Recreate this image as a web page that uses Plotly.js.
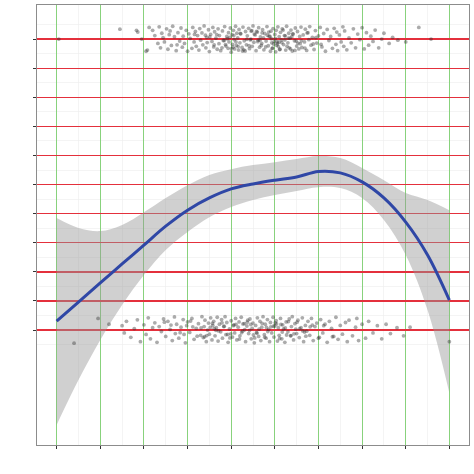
<!DOCTYPE html>
<html>
<head>
<meta charset="utf-8">
<script src="https://cdn.plot.ly/plotly-3.0.1.min.js"></script>
<style>html,body{margin:0;padding:0;background:#fff;}#chart{width:474px;height:474px;}</style>
</head>
<body>
<div id="chart"></div>
<script>
// jittered observations at outcome = 1
var topX = [1.05,2.45,2.83,2.86,2.95,3.05,3.08,3.12,3.2,3.25,
3.32,3.35,3.38,3.41,3.44,3.47,3.52,3.55,3.58,3.6,
3.63,3.66,3.7,3.74,3.78,3.82,3.85,3.88,3.9,3.93,
3.97,4.0,4.03,4.06,4.1,4.12,4.15,4.18,4.2,4.23,
4.26,4.28,4.3,4.33,4.35,4.38,4.42,4.44,4.45,4.48,
4.5,4.53,4.56,4.58,4.6,4.62,4.65,4.68,4.7,4.72,
4.73,4.76,4.8,4.82,4.85,4.88,4.9,4.93,4.94,4.95,
4.98,5.0,5.02,5.03,5.05,5.07,5.08,5.1,5.12,5.13,
5.15,5.17,5.18,5.2,5.22,5.25,5.27,5.3,5.32,5.33,
5.35,5.37,5.4,5.42,5.45,5.47,5.48,5.5,5.52,5.55,
5.57,5.6,5.62,5.63,5.65,5.67,5.7,5.72,5.75,5.77,
5.8,5.82,5.85,5.87,5.9,5.91,5.92,5.95,5.96,5.97,
6.0,6.02,6.03,6.05,6.07,6.08,6.1,6.12,6.13,6.15,
6.17,6.2,6.22,6.25,6.27,6.3,6.32,6.33,6.35,6.37,
6.4,6.42,6.45,6.47,6.5,6.52,6.55,6.57,6.58,6.6,
6.62,6.65,6.68,6.7,6.73,6.76,6.78,6.8,6.83,6.86,
6.9,6.93,6.96,7.0,7.04,7.08,7.12,7.16,7.2,7.24,
7.28,7.32,7.36,7.4,7.42,7.44,7.48,7.52,7.56,7.58,
7.6,7.65,7.7,7.75,7.8,7.85,7.9,7.95,8.0,8.05,
8.1,8.15,8.2,8.25,8.3,8.38,8.45,8.5,8.62,8.7,
8.82,9.0,9.3,9.58,
4.51,4.87,5.04,5.21,5.29,5.44,5.58,5.69,5.83,5.94,
6.01,6.09,6.19,6.28,6.39,6.46,6.61,6.74,6.88,5.11,
4.67,4.79,5.36,5.74,6.04,6.24,6.53,5.01,5.53,5.99,
4.97,5.16,5.66,5.86,6.16,6.36,4.41,4.61,4.91,5.26,
5.46,5.61,5.79,5.89,6.06,6.23,6.41,6.69,6.94,7.06,
4.84,5.06,5.41,5.71,5.93,6.11,6.31,6.49,3.76,4.16];
var topY = [1.0,1.034,1.03,1.024,1.0,0.958,0.962,1.04,1.03,1.012,
0.985,1.042,0.97,1.02,1.005,0.99,1.035,0.965,1.015,1.028,
0.978,1.044,1.008,0.96,1.022,0.993,1.038,0.972,1.01,0.985,
1.03,0.958,1.018,1.002,0.968,1.04,0.99,1.026,0.975,1.012,
0.962,1.036,0.996,1.021,0.98,1.045,0.97,1.006,0.988,1.032,
0.957,1.016,0.992,1.04,0.973,1.025,1.003,0.965,1.035,0.984,
1.012,0.96,1.028,0.995,1.043,0.976,1.009,0.968,1.022,0.99,
1.038,0.955,1.015,0.982,1.03,0.998,0.966,1.044,0.978,1.02,
1.004,0.962,1.033,0.987,1.018,0.971,1.041,0.994,0.959,1.026,
0.98,1.011,1.037,0.967,1.0,1.029,0.975,1.045,0.989,1.014,
0.96,1.024,0.996,1.039,0.972,1.007,0.985,1.032,0.963,1.019,
0.993,1.043,0.977,1.01,0.958,1.027,1.001,0.969,1.036,0.983,
1.016,0.956,1.03,0.991,1.042,0.974,1.008,0.965,1.023,0.997,
1.035,0.981,1.012,0.962,1.044,0.987,1.02,0.97,1.003,1.031,
0.959,1.017,0.994,1.038,0.976,1.026,0.966,1.009,0.984,1.041,
0.971,1.014,0.99,1.034,0.961,1.022,0.998,1.043,0.979,1.006,
0.964,1.029,0.986,1.011,1.04,0.973,1.019,0.958,1.033,0.995,
1.009,0.968,1.037,0.982,1.024,0.96,1.014,0.99,1.042,0.975,
1.028,0.963,1.004,0.987,1.035,0.97,1.017,0.998,1.039,0.966,
1.022,0.979,1.01,0.992,1.031,0.97,1.0,1.02,0.985,1.006,
0.996,0.99,1.04,1.0,
1.007,0.981,0.972,1.019,0.963,0.997,1.026,0.978,1.013,0.968,
1.002,0.989,1.031,0.975,1.008,0.961,0.994,1.021,0.983,0.99,
1.015,0.97,0.999,1.004,0.979,1.011,0.986,0.967,1.017,0.992,
1.006,0.974,0.996,1.024,0.988,0.966,1.013,0.98,1.001,0.959,
1.027,0.991,0.973,1.009,0.984,0.997,1.018,0.969,1.005,0.982,
0.995,1.012,0.977,1.021,0.987,0.964,1.003,0.993,0.98,1.016];

// jittered observations at outcome = 0
var botX = [1.4,1.95,2.2,2.5,2.55,2.6,2.7,2.78,2.85,2.92,
3.0,3.05,3.1,3.15,3.2,3.25,3.3,3.35,3.4,3.45,
3.5,3.55,3.6,3.65,3.7,3.72,3.75,3.8,3.85,3.9,
3.95,3.98,4.0,4.05,4.1,4.15,4.2,4.25,4.3,4.33,
4.36,4.38,4.4,4.43,4.46,4.48,4.5,4.53,4.56,4.58,
4.6,4.63,4.66,4.68,4.7,4.73,4.76,4.78,4.8,4.83,
4.86,4.88,4.9,4.93,4.96,5.0,5.03,5.06,5.08,5.1,
5.13,5.16,5.18,5.2,5.23,5.26,5.3,5.33,5.36,5.38,
5.4,5.43,5.46,5.48,5.5,5.53,5.56,5.58,5.6,5.63,
5.66,5.68,5.7,5.73,5.76,5.78,5.8,5.83,5.86,5.88,
5.9,5.93,5.96,5.98,6.0,6.03,6.06,6.08,6.1,6.13,
6.16,6.18,6.2,6.23,6.26,6.3,6.33,6.36,6.38,6.4,
6.43,6.46,6.5,6.53,6.56,6.6,6.63,6.66,6.7,6.73,
6.76,6.8,6.84,6.88,6.92,6.96,7.0,7.05,7.1,7.15,
7.2,7.25,7.3,7.35,7.4,7.45,7.5,7.55,7.62,7.66,
7.7,7.78,7.85,7.88,7.92,8.0,8.08,8.15,8.25,8.35,
8.45,8.55,8.65,8.8,8.95,9.1,10.0,
4.31,4.44,4.57,4.71,4.84,4.97,5.11,5.24,5.37,5.51,
5.64,5.77,5.91,6.04,6.17,6.31,6.44,6.57,6.71,6.86,
4.39,4.52,4.65,4.79,4.92,5.05,5.19,5.31,5.45,5.59,
5.71,5.84,5.97,6.11,6.24,6.37,6.51,6.64,6.81,7.02,
3.62,3.83,4.07,4.22,4.61,4.99,5.27,5.54,5.81,6.01,
6.27,6.48,6.68,7.12,7.32,3.47,3.92,4.12,5.42,6.14];
var botY = [-0.045,0.04,0.02,0.015,-0.01,0.03,-0.025,0.005,0.035,-0.04,
0.018,-0.015,0.042,-0.03,0.008,0.025,-0.042,0.012,-0.005,0.038,
-0.022,0.03,0.002,-0.036,0.045,-0.012,0.02,-0.028,0.01,0.036,
-0.044,0.015,0.028,-0.008,0.04,-0.032,0.006,0.022,-0.018,0.046,
-0.026,0.012,0.034,-0.04,0.0,0.024,-0.014,0.042,-0.034,0.016,
0.03,-0.02,0.008,0.044,-0.038,0.02,-0.006,0.036,-0.028,0.012,
0.046,-0.016,0.026,-0.042,0.004,0.032,-0.024,0.018,-0.01,0.04,
-0.034,0.01,0.028,-0.02,0.044,-0.004,0.022,-0.04,0.014,0.034,
-0.012,0.038,-0.03,0.006,0.024,-0.044,0.016,-0.008,0.042,-0.022,
0.03,-0.036,0.01,0.046,-0.016,0.02,-0.028,0.036,0.002,-0.04,
0.026,-0.01,0.044,-0.024,0.014,0.032,-0.038,0.008,-0.018,0.04,
-0.03,0.018,0.004,-0.042,0.028,-0.006,0.038,-0.02,0.012,0.046,
-0.034,0.022,-0.012,0.034,-0.026,0.008,0.042,-0.04,0.016,-0.004,
0.03,-0.018,0.04,-0.036,0.012,0.024,-0.028,0.036,-0.01,0.02,
-0.042,0.03,0.006,-0.022,0.044,-0.032,0.016,-0.014,0.026,-0.04,
0.034,-0.02,0.01,0.04,-0.036,0.02,-0.028,0.03,-0.01,0.015,
-0.03,0.02,-0.012,0.008,-0.02,0.01,-0.04,
0.007,-0.019,0.023,-0.003,0.013,-0.027,0.019,-0.009,0.027,-0.017,
0.003,-0.025,0.011,0.021,-0.007,0.029,-0.013,0.005,-0.021,0.017,
-0.023,0.009,-0.001,0.025,-0.015,0.015,-0.031,0.001,0.019,-0.011,
0.023,-0.005,0.013,-0.029,0.007,-0.019,0.027,-0.003,0.011,-0.025,
0.017,-0.009,0.031,-0.021,0.005,-0.013,0.021,-0.027,0.009,0.025,
-0.017,0.003,-0.007,0.015,-0.023,0.027,-0.015,0.011,-0.001,0.019];

// smoothed fit and confidence band
var fitX  = [1,1.5,2,2.5,3,3.5,4,4.5,5,5.5,6,6.5,7,7.5,8,8.5,9,9.5,10];
var fitY  = [0.031,0.096,0.162,0.227,0.292,0.357,0.412,0.454,0.485,0.502,0.515,0.526,0.545,0.540,0.509,0.454,0.371,0.258,0.103];
var bandHi= [0.385,0.351,0.340,0.361,0.405,0.454,0.498,0.533,0.553,0.567,0.577,0.588,0.598,0.591,0.557,0.515,0.471,0.447,0.412];
var bandLo= [-0.326,-0.172,-0.034,0.086,0.189,0.275,0.337,0.388,0.423,0.447,0.464,0.478,0.491,0.488,0.454,0.378,0.258,0.069,-0.216];

var xBreaks = [1,2,3,4,5,6,7,8,9,10];
var xMinor  = [1.5,2.5,3.5,4.5,5.5,6.5,7.5,8.5,9.5];
var yBreaks = [0,0.1,0.2,0.3,0.4,0.5,0.6,0.7,0.8,0.9,1];
var yMinor  = [-0.05,0.05,0.15,0.25,0.35,0.45,0.55,0.65,0.75,0.85,0.95,1.05];

var traces = [
  {x: fitX, y: bandLo, mode: 'lines', line: {width: 0, shape: 'spline'}, hoverinfo: 'skip', showlegend: false},
  {x: fitX, y: bandHi, mode: 'lines', line: {width: 0, shape: 'spline'}, fill: 'tonexty', fillcolor: 'rgba(150,150,150,0.45)', hoverinfo: 'skip', showlegend: false},
  {x: topX, y: topY, mode: 'markers', marker: {size: 3.8, color: 'rgba(45,45,45,0.4)'}, showlegend: false},
  {x: botX, y: botY, mode: 'markers', marker: {size: 3.8, color: 'rgba(45,45,45,0.4)'}, showlegend: false},
  {x: fitX, y: fitY, mode: 'lines', line: {color: '#2f47a6', width: 3, shape: 'spline'}, showlegend: false}
];

var layout = {
  width: 474, height: 474,
  margin: {l: 37, r: 5, t: 5, b: 29},
  paper_bgcolor: '#ffffff', plot_bgcolor: '#ffffff',
  showlegend: false,
  xaxis: {
    range: [0.55, 10.45], zeroline: false,
    tickmode: 'array', tickvals: xBreaks, showticklabels: false,
    ticks: 'outside', ticklen: 3, tickcolor: '#333333', tickwidth: 1,
    showgrid: true, gridcolor: '#88d27c', gridwidth: 1.1,
    minor: {tickmode: 'array', tickvals: xMinor, showgrid: true, gridcolor: '#ececec', gridwidth: 0.6, ticks: ''},
    showline: true, linecolor: '#8c8c8c', linewidth: 1.3, mirror: true
  },
  yaxis: {
    range: [-0.395, 1.117], zeroline: false,
    tickmode: 'array', tickvals: yBreaks, showticklabels: false,
    ticks: 'outside', ticklen: 3, tickcolor: '#333333', tickwidth: 1,
    showgrid: true, gridcolor: '#e4303c', gridwidth: 1.3,
    minor: {tickmode: 'array', tickvals: yMinor, showgrid: true, gridcolor: '#ececec', gridwidth: 0.6, ticks: ''},
    showline: true, linecolor: '#8c8c8c', linewidth: 1.3, mirror: true
  }
};

Plotly.newPlot('chart', traces, layout, {displayModeBar: false, staticPlot: true});
</script>
</body>
</html>
